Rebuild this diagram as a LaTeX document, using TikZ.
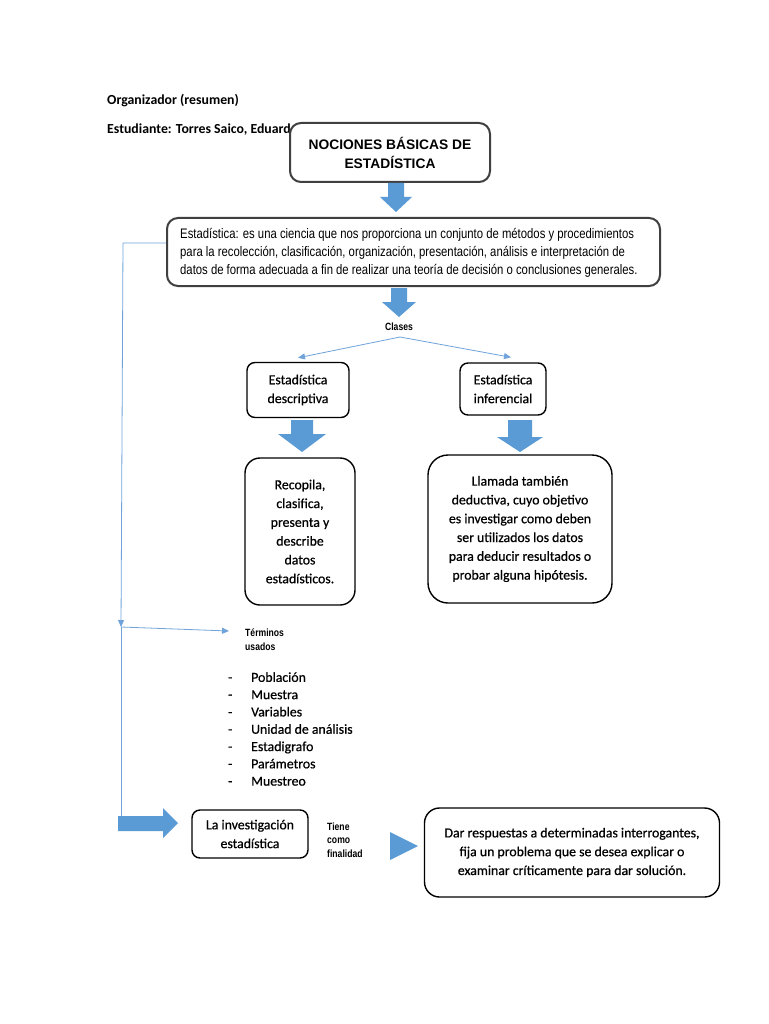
\documentclass[tikz,border=0pt]{standalone}
\usepackage{fontspec}
\setmainfont{Carlito}[UprightFeatures={FakeBold=0.6}]
\newfontfamily\arialfont{Liberation Sans}
\newfontfamily\narrowfont[FakeStretch=0.82]{Liberation Sans}
\usetikzlibrary{arrows.meta}

\definecolor{azul}{HTML}{5B9BD5}
\definecolor{azulfino}{HTML}{6FA3D9}

\tikzset{
	caja/.style={draw, fill=white, line width=1.4pt, rounded corners=8pt, align=center,
		inner sep=0pt, font=\fontsize{13.8}{18.8}\selectfont},
	cajagruesa/.style={caja, draw=black!75, line width=2pt, rounded corners=11pt},
	rotulo/.style={inner sep=0pt, align=left, font=\narrowfont\bfseries\fontsize{10.5}{13.5}\selectfont},
	fino/.style={draw=azulfino, line width=0.8pt},
	flechafina/.style={fino, -{Triangle[length=7pt,width=6pt]}},
}

% flecha gruesa hacia abajo: x, y arriba, y cabeza, y punta, medio ancho, medio ancho cabeza
\newcommand{\flechabaja}[6]{%
	\fill[azul] (#1-#5,#2) -- (#1+#5,#2) -- (#1+#5,#3) -- (#1+#6,#3) -- (#1,#4)
		-- (#1-#6,#3) -- (#1-#5,#3) -- cycle;}

\begin{document}
\begin{tikzpicture}[x=1pt,y=-1pt]
	\fill[white] (0,0) rectangle (768,1024);
	\useasboundingbox (0,0) rectangle (768,1024);

	% encabezado
	\node[anchor=west, inner sep=0pt, font=\bfseries\fontsize{13.8}{16}\selectfont] (organizador) at (107,101) {Organizador (resumen)};
	\node[anchor=west, inner sep=0pt, font=\bfseries\fontsize{13.8}{16}\selectfont] (estudiante) at (107,130) {Estudiante: Torres Saico, Eduard};

	% cajas
	\node[cajagruesa, minimum width=200, minimum height=59, font=\arialfont\bfseries\fontsize{13.8}{19}\selectfont] (titulo) at (390,152.5) {NOCIONES BÁSICAS DE\\ESTADÍSTICA};
	\node[cajagruesa, minimum width=493, minimum height=68] (def) at (413.5,252) {};
	\node[anchor=west, inner sep=0pt, align=left, font=\narrowfont\fontsize{13.8}{18}\selectfont] (deftexto) at (180,253) {Estadística: es una ciencia que nos proporciona un conjunto de métodos y procedimientos\\para la recolección, clasificación, organización, presentación, análisis e interpretación de\\datos de forma adecuada a fin de realizar una teoría de decisión o conclusiones generales.};
	\node[rotulo] (clases) at (399,327) {Clases};
	\node[caja, minimum width=102, minimum height=55] (desc) at (298,390) {Estadística\\descriptiva};
	\node[caja, minimum width=86, minimum height=52] (inf) at (503,389) {Estadística\\inferencial};
	\node[caja, minimum width=110, minimum height=147, rounded corners=15pt] (recopila) at (300,531.5) {Recopila,\\clasifica,\\presenta y\\describe\\datos\\estadísticos.};
	\node[caja, minimum width=184, minimum height=148, rounded corners=20pt] (llamada) at (520,529) {Llamada también\\deductiva, cuyo objetivo\\es investigar como deben\\ser utilizados los datos\\para deducir resultados o\\probar alguna hipótesis.};
	\node[rotulo, anchor=north west] (terminos) at (245,629) {Términos\\usados};
	\node[anchor=west, inner sep=0pt, align=left, font=\fontsize{13.8}{17.3}\selectfont] (lista) at (228,729) {%
		\makebox[23pt][l]{-}Población\\
		\makebox[23pt][l]{-}Muestra\\
		\makebox[23pt][l]{-}Variables\\
		\makebox[23pt][l]{-}Unidad de análisis\\
		\makebox[23pt][l]{-}Estadigrafo\\
		\makebox[23pt][l]{-}Parámetros\\
		\makebox[23pt][l]{-}Muestreo};
	\node[caja, minimum width=116, minimum height=48] (investigacion) at (250,834) {La investigación\\estadística};
	\node[rotulo, anchor=west] (finalidad) at (327,840) {Tiene\\como\\finalidad};
	\node[caja, minimum width=295, minimum height=89, rounded corners=15pt] (respuestas) at (572,852.5) {Dar respuestas a determinadas interrogantes,\\fija un problema que se desea explicar o\\examinar críticamente para dar solución.};

	% flechas gruesas
	\flechabaja{396}{183}{197}{212}{8}{16}
	\flechabaja{399}{288}{302}{317}{8}{17}
	\flechabaja{302}{420}{434}{452}{11}{24}
	\flechabaja{520}{420}{437}{452}{12}{23}
	\fill[azul] (118,816) -- (163,816) -- (163,808) -- (178,823) -- (163,838) -- (163,831) -- (118,831) -- cycle;
	\fill[azul] (390,832) -- (418,846) -- (390,860) -- cycle;

	% conectores finos
	\coordinate (bifurca) at (400,337);
	\draw[flechafina] (bifurca) -- ([yshift=4pt]desc.north);
	\draw[flechafina] (bifurca) -- ([xshift=8pt,yshift=5pt]inf.north);
	\coordinate (esquina) at (123,243);
	\coordinate (rama) at (121,627);
	\coordinate (codo) at (121,816);
	\draw[flechafina] ([yshift=9pt]def.west) -- (esquina) -- (rama);
	\draw[flechafina] (rama) -- ([xshift=-16pt,yshift=-2pt]terminos.north west);
	\draw[fino] (rama) -- (codo);
\end{tikzpicture}
\end{document}
